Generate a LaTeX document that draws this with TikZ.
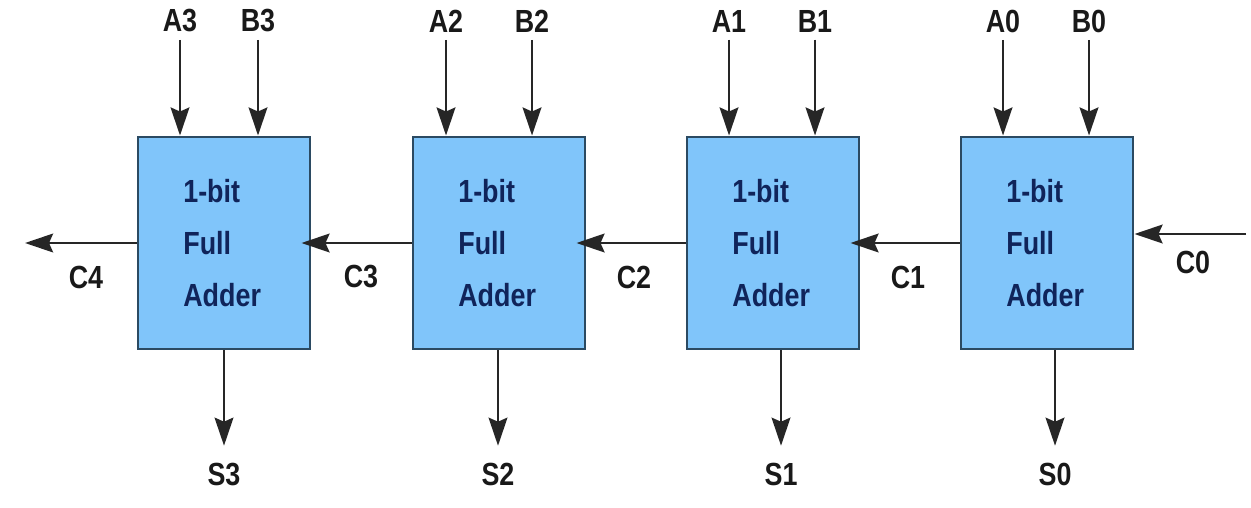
\documentclass[tikz,border=0pt]{standalone}
\usepackage{fontspec}
\setmainfont[FakeStretch=0.84]{Liberation Sans}
\usetikzlibrary{arrows.meta}
\definecolor{adderfill}{HTML}{80C5FA}
\definecolor{adderline}{HTML}{2B4A62}
\definecolor{addertext}{HTML}{10245A}
\begin{document}
\begin{tikzpicture}[x=0.75pt,y=0.75pt,yscale=-1,xscale=1,
  adder/.style={draw=adderline,fill=adderfill,line width=2.2pt,minimum width=129pt,minimum height=159pt,inner xsep=0pt,inner ysep=0pt,text width=129pt,align=left,font=\bfseries\fontsize{24}{39}\selectfont,text=addertext},
  signal/.style={inner sep=5.5pt,font=\bfseries\fontsize{24}{28}\selectfont,text=black!90},
  wire/.style={draw=black!85,line width=2.2pt,-{Stealth[length=21pt,width=14pt,inset=3pt]}},
  wireout/.style={wire,shorten >=7pt},
  wireplain/.style={wire,shorten >=-7.5pt}]
\useasboundingbox (0,0) rectangle (1251,507);

%Shape: Rectangle
\node [adder] (adder3) at (224,243) {\hspace*{34pt}1-bit\\\hspace*{34pt}Full\\\hspace*{34pt}Adder};
\node [adder] (adder2) at (499,243) {\hspace*{34pt}1-bit\\\hspace*{34pt}Full\\\hspace*{34pt}Adder};
\node [adder] (adder1) at (773,243) {\hspace*{34pt}1-bit\\\hspace*{34pt}Full\\\hspace*{34pt}Adder};
\node [adder] (adder0) at (1047,243) {\hspace*{34pt}1-bit\\\hspace*{34pt}Full\\\hspace*{34pt}Adder};

% Text Node
\node [signal] (a3) at (180,21) {A3};
\node [signal] (b3) at (258,21) {B3};
\node [signal] (a2) at (446,21) {A2};
\node [signal] (b2) at (532,21) {B2};
\node [signal] (a1) at (729,21) {A1};
\node [signal] (b1) at (815,21) {B1};
\node [signal] (a0) at (1003,21) {A0};
\node [signal] (b0) at (1089,21) {B0};
% Text Node
\node [signal] (s3) at (224,474) {S3};
\node [signal] (s2) at (498,474) {S2};
\node [signal] (s1) at (781,474) {S1};
\node [signal] (s0) at (1055,474) {S0};
% Text Node
\node [signal] (c4) at (86,277) {C4};
\node [signal] (c3) at (361,277) {C3};
\node [signal] (c2) at (634,277) {C2};
\node [signal] (c1) at (908,277) {C1};
\node [signal] (c0) at (1193,262) {C0};

%Straight Lines
\draw [wire] (a3.south) -- (a3.south |- adder3.north);
\draw [wire] (b3.south) -- (b3.south |- adder3.north);
\draw [wire] (a2.south) -- (a2.south |- adder2.north);
\draw [wire] (b2.south) -- (b2.south |- adder2.north);
\draw [wire] (a1.south) -- (a1.south |- adder1.north);
\draw [wire] (b1.south) -- (b1.south |- adder1.north);
\draw [wire] (a0.south) -- (a0.south |- adder0.north);
\draw [wire] (b0.south) -- (b0.south |- adder0.north);
%Straight Lines
\draw [wireout] (s3.north |- adder3.south) -- (s3.north);
\draw [wireout] (s2.north |- adder2.south) -- (s2.north);
\draw [wireout] (s1.north |- adder1.south) -- (s1.north);
\draw [wireout] (s0.north |- adder0.south) -- (s0.north);
%Straight Lines
\coordinate (c4end) at (25,243);
\coordinate (c0start) at (1246,234);
\draw [wire] (adder3.west) -- (c4end);
\draw [wireplain] (adder2.west) -- (adder3.east);
\draw [wireplain] (adder1.west) -- (adder2.east);
\draw [wireplain] (adder0.west) -- (adder1.east);
\draw [wire] (c0start) -- (c0start -| adder0.east);
\end{tikzpicture}
\end{document}
